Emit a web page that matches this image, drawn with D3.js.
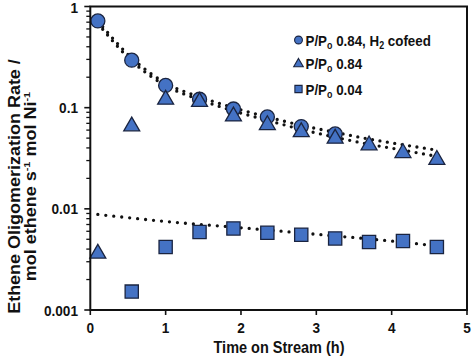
<!DOCTYPE html>
<html><head><meta charset="utf-8">
<script src="https://cdn.jsdelivr.net/npm/d3@7/dist/d3.min.js"></script>
<style>body{margin:0;background:#fff}svg{display:block}text{font-family:"Liberation Sans",Arial,sans-serif;font-weight:bold;fill:#111}</style>
</head><body>
<svg id="c" width="474" height="364"></svg>
<script>
// ---- data ----
const timesH2 = [0.1, 0.55, 1.0, 1.45, 1.9, 2.35, 2.8, 3.25];
const rateH2 = [0.72, 0.295, 0.166, 0.121, 0.097, 0.081, 0.065, 0.055];
const timesHigh = [0.1, 0.55, 1.0, 1.45, 1.9, 2.35, 2.8, 3.25, 3.7, 4.15, 4.6];
const rateHigh = [0.0037, 0.067, 0.123, 0.117, 0.084, 0.069, 0.0587, 0.0506, 0.0435, 0.0365, 0.0313];
const timesLow = [0.55, 1.0, 1.45, 1.9, 2.35, 2.8, 3.25, 3.7, 4.15, 4.6];
const rateLow = [0.00152, 0.0042, 0.0059, 0.0064, 0.0058, 0.00555, 0.0051, 0.0047, 0.0048, 0.0042];
const trendAX = [0.1, 0.55, 1.0, 1.45, 1.9, 2.35, 2.8, 3.25, 3.7, 4.15, 4.6];
const trendAY = [0.72, 0.31, 0.175, 0.128, 0.1, 0.081, 0.067, 0.057, 0.049, 0.043, 0.038];
const trendBX = [0.1, 0.55, 1.0, 1.45, 1.9, 2.35, 2.8, 3.25, 3.7, 4.15, 4.6];
const trendBY = [0.68, 0.29, 0.165, 0.12, 0.093, 0.075, 0.061, 0.051, 0.0435, 0.038, 0.033];
const trendLowX = [0.1, 1, 2, 3, 4, 4.6];
const trendLowY = [0.0088, 0.0075, 0.0065, 0.0056, 0.0048, 0.0043];
const xTicks = [0, 1, 2, 3, 4, 5];
const yTicks = [0.001, 0.01, 0.1, 1];
const yTickLabels = ["0.001", "0.01", "0.1", "1"];
const legendLabels = [["P/P","o"," 0.84, H","2"," cofeed"],["P/P","o"," 0.84"],["P/P","o"," 0.04"]];

const svg = d3.select("#c");
const X0 = 90.3, X1 = 467, Y0 = 310, Y1 = 6.5;
const x = d3.scaleLinear().domain([0, 5]).range([X0, X1]);
const y = d3.scaleLog().domain([0.001, 1]).range([Y0, Y1]);
const fill = "#4472C4", edge = "#1a2440";
const SX = 0.89;

// trendlines
const line = d3.line().x(d => x(d[0])).y(d => y(d[1])).curve(d3.curveMonotoneX);
[[trendAX, trendAY], [trendBX, trendBY]].forEach(([xs, ys]) => {
  svg.append("path").attr("d", line(d3.zip(xs, ys)))
    .attr("fill","none").attr("stroke","#111").attr("stroke-width",3.3)
    .attr("stroke-dasharray","0 7.5").attr("stroke-linecap","round");
});
svg.append("path").attr("d", line(d3.zip(trendLowX, trendLowY)))
  .attr("fill","none").attr("stroke","#111").attr("stroke-width",3.3)
  .attr("stroke-dasharray","0 8").attr("stroke-linecap","round");

// markers
const sym = (type, size) => d3.symbol().type(type).size(size)();
const marks = [
  [timesH2, rateH2, d3.symbolCircle, 155],
  [timesHigh, rateHigh, d3.symbolTriangle, 110],
  [timesLow, rateLow, d3.symbolSquare, 175]
];
[marks[0], marks[2], marks[1]].forEach(([xs, ys, t, s]) => {
  svg.append("g").selectAll("path").data(d3.zip(xs, ys)).join("path")
    .attr("d", sym(t, s))
    .attr("transform", d => `translate(${x(d[0])},${y(d[1]) + (t===d3.symbolTriangle?1:0)})`)
    .attr("fill", fill).attr("stroke", edge).attr("stroke-width", 1.3);
});

// frame
svg.append("rect").attr("x", X0).attr("y", Y1).attr("width", X1 - X0).attr("height", Y0 - Y1)
  .attr("fill","none").attr("stroke","#111").attr("stroke-width",2);

// ticks
const minor = [];
for (let d = 0.001; d < 1; d *= 10) for (let k = 2; k <= 9; k++) minor.push(+(d * k).toPrecision(3));
svg.append("g").selectAll("line").data(minor).join("line")
  .attr("x1", X0 - 4).attr("x2", X0).attr("y1", d => y(d)).attr("y2", d => y(d))
  .attr("stroke","#111").attr("stroke-width",1.3);
svg.append("g").selectAll("line").data(yTicks).join("line")
  .attr("x1", X0 - 6).attr("x2", X0).attr("y1", d => y(d)).attr("y2", d => y(d))
  .attr("stroke","#111").attr("stroke-width",1.6);
svg.append("g").selectAll("line").data(xTicks).join("line")
  .attr("x1", d => x(d)).attr("x2", d => x(d)).attr("y1", Y0).attr("y2", Y0 + 5)
  .attr("stroke","#111").attr("stroke-width",1.6);

function txt(px, py, str, size, anchor, rot) {
  const g = svg.append("g").attr("transform", `translate(${px},${py}) scale(${SX},1)` + (rot ? ` rotate(${rot})` : ""));
  return g.append("text").attr("font-size", size).attr("text-anchor", anchor).text(str);
}
yTicks.forEach((v, i) => txt(78, Math.max(y(v) + 5.5, 13), yTickLabels[i], 15.3, "end"));
xTicks.forEach(v => txt(x(v), 333, String(v), 15.3, "middle"));
txt(279, 353, "Time on Stream (h)", 16.3, "middle");

// y title
txt(19.5, 186.5, "Ethene Oligomerization Rate /", 18, "middle", -90);
{
  const t = txt(35.5, 186.5, "", 18, "middle", -90);
  t.append("tspan").text("mol ethene s");
  t.append("tspan").attr("font-size", 11).attr("dy", -6).text("-1");
  t.append("tspan").attr("dy", 6).text(" mol Ni");
  t.append("tspan").attr("font-size", 11).attr("dy", -6).text("-1");
}

// legend
const legY = [40, 63.5, 89];
const legSym = [d3.symbolCircle, d3.symbolTriangle, d3.symbolSquare];
const legSize = [48, 40, 52];
legendLabels.forEach((parts, i) => {
  svg.append("path").attr("d", sym(legSym[i], legSize[i]))
    .attr("transform", `translate(298.5,${legY[i] + (i===1?0.5:0)})`)
    .attr("fill", fill).attr("stroke", edge).attr("stroke-width", 1.1);
  const t = txt(305.5, legY[i] + 5.5, "", 15, "start");
  parts.forEach((p, j) => {
    const sub = j % 2 === 1;
    t.append("tspan").attr("font-size", sub ? 10 : 15).attr("dy", sub ? 3 : (j > 0 ? -3 : 0)).text(p);
  });
});
</script>
</body></html>
